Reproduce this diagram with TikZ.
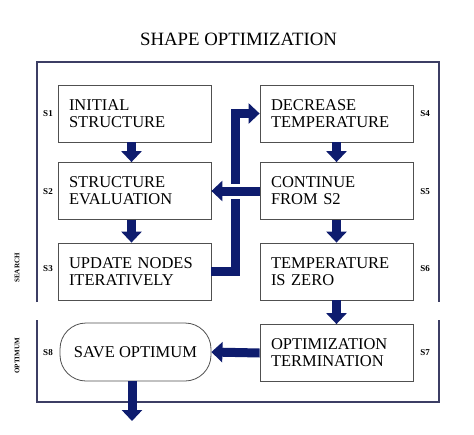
\documentclass[tikz,border=0pt]{standalone}
\usepackage{fontspec}
\setmainfont{Liberation Serif}
\usetikzlibrary{arrows.meta,calc}
\definecolor{navy}{RGB}{14,28,110}
\definecolor{framec}{RGB}{60,62,100}
\definecolor{boxc}{RGB}{80,80,80}
\tikzset{
  stepbox/.style={draw=boxc, line width=0.8pt, minimum width=153pt, minimum height=57pt,
    text width=131pt, align=left, inner xsep=11pt, inner ysep=0pt,
    font=\fontsize{16.5}{17}\selectfont},
  endbox/.style={draw=boxc, line width=0.8pt, minimum width=151pt, minimum height=58pt,
    rounded corners=26pt, inner sep=0pt, font=\fontsize{16.5}{17}\selectfont},
  slabel/.style={font=\bfseries\fontsize{9}{9}\selectfont, inner sep=0pt},
  sidelabel/.style={font=\bfseries\fontsize{7}{7}\selectfont, inner sep=0pt, rotate=90},
  frame/.style={draw=framec, line width=1.3pt},
  arr/.style={draw=navy, line width=9pt, line join=miter,
    -{Triangle[width=20pt,length=11pt]}, color=navy},
}
\begin{document}
\begin{tikzpicture}[x=1pt,y=-1pt]
\useasboundingbox (0,0) rectangle (474,434);
\fill[white] (0,0) rectangle (474,434);

\node[anchor=base, font=\fontsize{18.8}{20}\selectfont] (title) at (238.5,45) {SHAPE OPTIMIZATION};

% frames
\draw[frame] (37,302) -- (37,62) -- (439,62) -- (439,302);
\draw[frame] (37,320) -- (37,402) -- (439,402) -- (439,320);

% boxes
\node[stepbox] (s1) at (134.5,113.5) {INITIAL\\STRUCTURE};
\node[stepbox] (s2) at (134.5,191) {STRUCTURE\\EVALUATION};
\node[stepbox] (s3) at (134.5,271.5) {UPDATE NODES\\ITERATIVELY};
\node[stepbox] (s4) at (336.5,113.5) {DECREASE\\TEMPERATURE};
\node[stepbox] (s5) at (336.5,191) {CONTINUE\\FROM S2};
\node[stepbox] (s6) at (336.5,271.5) {TEMPERATURE\\IS ZERO};
\node[stepbox] (s7) at (336.5,353) {OPTIMIZATION\\TERMINATION};
\node[endbox] (s8) at (135.5,352) {SAVE OPTIMUM};

% labels
\node[slabel] (l1) at (48,114) {S1};
\node[slabel] (l2) at (48,192) {S2};
\node[slabel] (l3) at (48,269) {S3};
\node[slabel] (l8) at (48,353) {S8};
\node[slabel] (l4) at (425,114) {S4};
\node[slabel] (l5) at (425,192) {S5};
\node[slabel] (l6) at (425,269) {S6};
\node[slabel] (l7) at (425,353) {S7};
\node[sidelabel] (search) at (17,268) {SEARCH};
\node[sidelabel] (optimum) at (17,356) {OPTIMUM};

% connectors
\coordinate (vx) at (235.5,0);
\coordinate (out) at (132,421);
\draw[arr] ([xshift=-3pt]s1.south) -- ([xshift=-3pt]s2.north);
\draw[arr] ([xshift=-3pt]s2.south) -- ([xshift=-3pt]s3.north);
\draw[arr] (s3.east) -| (vx |- s4.west) -- (s4.west);
\draw[white, line width=15pt, shorten <=13pt, shorten >=13pt] (s5.west) -- (s2.east);
\draw[arr] (s5.west) -- (s2.east);
\draw[arr] (s4.south) -- (s5.north);
\draw[arr] (s5.south) -- (s6.north);
\draw[arr] (s6.south) -- (s7.north);
\draw[arr] (s7.west) -- (s8.east);
\draw[arr] (s8.south -| out) -- (out);
\end{tikzpicture}
\end{document}
